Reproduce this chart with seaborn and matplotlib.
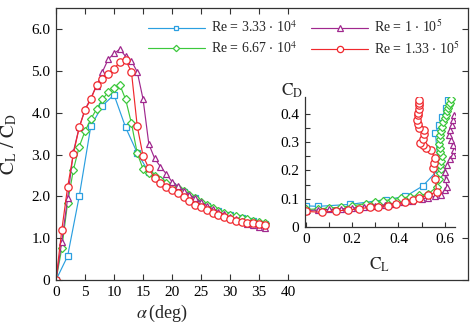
import numpy as np
import pandas as pd
import matplotlib
matplotlib.use("Agg")
import matplotlib.pyplot as plt
import seaborn as sns

# ---------------- data ----------------
alpha = list(range(0, 37))          # angle of attack (deg), 1-deg steps
alpha_2 = list(range(0, 37, 2))     # 2-deg steps

# lift-to-drag ratio C_L / C_D
ratio_333 = [0, 0.57, 2.00, 3.68, 4.17, 4.43, 3.65, 3.04, 2.58, 2.38, 2.25,
             2.10, 1.95, 1.78, 1.65, 1.56, 1.48, 1.41, 1.35]
ratio_667 = [0, 0.76, 1.85, 2.64, 3.19, 3.56, 3.85, 4.09, 4.32, 4.50, 4.60,
             4.67, 4.32, 3.75, 3.03, 2.66, 2.56, 2.50, 2.40, 2.33, 2.27, 2.20,
             2.12, 2.04, 1.96, 1.87, 1.79, 1.72, 1.65, 1.60, 1.56, 1.52, 1.48,
             1.45, 1.42, 1.39, 1.36]
ratio_100 = [0, 0.92, 1.95, 3.07, 3.65, 4.08, 4.35, 4.65, 4.98, 5.28, 5.42,
             5.52, 5.35, 5.24, 4.98, 4.33, 3.25, 2.91, 2.71, 2.54, 2.35, 2.24,
             2.14, 2.04, 1.95, 1.86, 1.78, 1.70, 1.63, 1.57, 1.51, 1.45, 1.40,
             1.35, 1.31, 1.27, 1.24]
ratio_133 = [0, 1.20, 2.22, 3.02, 3.65, 4.07, 4.32, 4.67, 4.80, 4.94, 5.05,
             5.22, 5.26, 4.98, 3.68, 2.97, 2.67, 2.43, 2.31, 2.23, 2.15, 2.07,
             1.99, 1.88, 1.80, 1.74, 1.67, 1.61, 1.55, 1.50, 1.46, 1.42, 1.39,
             1.37, 1.36, 1.34, 1.32]

# drag polars (C_L, C_D)
cl_333 = [0.00, 0.05, 0.19, 0.345, 0.43, 0.505, 0.575, 0.56, 0.575, 0.59, 0.605, 0.616]
cd_333 = [0.075, 0.073, 0.080, 0.097, 0.108, 0.145, 0.205, 0.332, 0.36, 0.39, 0.42, 0.448]

cl_667 = [0.00, 0.05, 0.10, 0.15, 0.20, 0.26, 0.30, 0.335, 0.37, 0.41, 0.45, 0.49,
          0.53, 0.565, 0.575, 0.58, 0.585, 0.58, 0.583, 0.587, 0.58, 0.578, 0.577,
          0.58, 0.58, 0.585, 0.59, 0.594, 0.60, 0.604, 0.61, 0.613, 0.618, 0.623, 0.626]
cd_667 = [0.062, 0.064, 0.067, 0.070, 0.075, 0.083, 0.088, 0.093, 0.097, 0.102,
          0.107, 0.112, 0.118, 0.141, 0.17, 0.19, 0.205, 0.22, 0.235, 0.25, 0.265,
          0.28, 0.295, 0.31, 0.325, 0.34, 0.355, 0.37, 0.385, 0.395, 0.41, 0.42,
          0.43, 0.44, 0.452]

cl_100 = [0.00, 0.05, 0.10, 0.15, 0.20, 0.25, 0.30, 0.34, 0.38, 0.42, 0.46, 0.50,
          0.53, 0.56, 0.585, 0.60, 0.61, 0.604, 0.60, 0.61, 0.625, 0.635, 0.64,
          0.635, 0.627, 0.62, 0.623, 0.63, 0.635, 0.64]
cd_100 = [0.058, 0.060, 0.062, 0.064, 0.067, 0.070, 0.074, 0.078, 0.083, 0.088,
          0.093, 0.099, 0.104, 0.109, 0.115, 0.13, 0.141, 0.171, 0.195, 0.22, 0.242,
          0.256, 0.273, 0.29, 0.308, 0.326, 0.344, 0.362, 0.38, 0.398]

cl_133 = [0.00, 0.07, 0.13, 0.18, 0.23, 0.275, 0.31, 0.355, 0.39, 0.43, 0.465,
          0.49, 0.53, 0.565, 0.56, 0.548, 0.553, 0.558, 0.54, 0.52, 0.505, 0.495,
          0.505, 0.51, 0.51, 0.49, 0.485, 0.48, 0.485, 0.485, 0.488, 0.49, 0.49, 0.49]
cd_133 = [0.055, 0.052, 0.057, 0.060, 0.064, 0.070, 0.071, 0.076, 0.082, 0.088,
          0.097, 0.104, 0.112, 0.125, 0.17, 0.21, 0.225, 0.245, 0.272, 0.28, 0.29,
          0.298, 0.312, 0.33, 0.342, 0.35, 0.365, 0.38, 0.395, 0.405, 0.418, 0.43,
          0.44, 0.45]

labels = ["Re = 3.33 $\\cdot$ 10$^4$", "Re = 6.67 $\\cdot$ 10$^4$",
          "Re = 1 $\\cdot$ 10$^5$", "Re = 1.33 $\\cdot$ 10$^5$"]
colors = ["#2B9FE0", "#3CC83C", "#A0288E", "#F0282D"]
markers = ["s", "D", "^", "o"]
msizes = [4.0, 3.8, 5.0, 5.3]

# ---------------- style ----------------
sns.set_style("ticks")
plt.rcParams["font.family"] = ["Liberation Serif", "DejaVu Serif"]
plt.rcParams["mathtext.fontset"] = "stix"
plt.rcParams["axes.edgecolor"] = "#333333"
plt.rcParams["xtick.color"] = "#333333"
plt.rcParams["ytick.color"] = "#333333"
plt.rcParams["xtick.labelcolor"] = "black"
plt.rcParams["ytick.labelcolor"] = "black"

fig = plt.figure(figsize=(4.74, 3.30), dpi=100)
ax = fig.add_axes([56 / 474, 1 - 280 / 330, 412 / 474, 271.7 / 330])

main_x = [alpha_2, alpha, alpha, alpha]
main_y = [ratio_333, ratio_667, ratio_100, ratio_133]

for x, y, c, m, ms, lab in zip(main_x, main_y, colors, markers, msizes, labels):
    sns.lineplot(x=x, y=y, ax=ax, color=c, marker=m, markersize=ms,
                 markerfacecolor="white", markeredgecolor=c, markeredgewidth=0.9,
                 linewidth=0.85, label=lab, estimator=None, sort=False)

ax.set_xlim(0, 71)
ax.set_ylim(0, 6.5)
ax.set_xticks(range(0, 41, 5))
ax.set_xticklabels([str(v) for v in range(0, 41, 5)])
ax.set_yticks([0, 1, 2, 3, 4, 5, 6])
ax.set_yticklabels(["0", "1.0", "2.0", "3.0", "4.0", "5.0", "6.0"])
ax.tick_params(direction="in", top=True, right=True, length=4, width=0.8,
               labelsize=11, pad=4)
for s in ax.spines.values():
    s.set_linewidth(0.9)

ax.set_xlabel(r"$\alpha\,$(deg)", fontsize=13)
ax.xaxis.set_label_coords(0.257, -0.085)
ax.set_ylabel(r"$\mathrm{C_L}\ /\ \mathrm{C_D}$", fontsize=14)
ax.yaxis.set_label_coords(-0.09, 0.5)

ax.legend(ncol=2, frameon=False, fontsize=10, loc="upper left",
          bbox_to_anchor=(148 / 474, 1 - 19 / 330), bbox_transform=fig.transFigure,
          borderpad=0, borderaxespad=0, handlelength=4.1, handletextpad=0.45,
          columnspacing=1.0, labelspacing=0.35, markerscale=0.85)

# ---------------- inset: drag polar ----------------
axi = fig.add_axes([305 / 474, 1 - 227 / 330, 150 / 474, 130 / 330])
axi.patch.set_alpha(0)
pol_x = [cl_333, cl_667, cl_100, cl_133]
pol_y = [cd_333, cd_667, cd_100, cd_133]
for x, y, c, m, ms in zip(pol_x, pol_y, colors, markers, msizes):
    sns.lineplot(x=x, y=y, ax=axi, color=c, marker=m, markersize=ms,
                 markerfacecolor="white", markeredgecolor=c, markeredgewidth=0.9,
                 linewidth=0.85, estimator=None, sort=False)

axi.set_xlim(-0.005, 0.645)
axi.set_ylim(0, 0.46)
axi.set_xticks(np.arange(0, 0.61, 0.1))
axi.set_xticklabels(["0", "", "0.2", "", "0.4", "", "0.6"])
axi.set_yticks(np.arange(0, 0.41, 0.05))
axi.set_yticklabels(["0", "", "0.1", "", "0.2", "", "0.3", "", "0.4"])
axi.tick_params(direction="in", length=3.5, width=0.8, labelsize=11, pad=4)
axi.spines["top"].set_visible(False)
axi.spines["right"].set_visible(False)
for s in ["left", "bottom"]:
    axi.spines[s].set_linewidth(0.9)
axi.set_xlabel("")
axi.set_ylabel("")
fig.text(292 / 474, 1 - 91 / 330, r"$\mathrm{C_D}$", fontsize=12.5,
         ha="center", va="center")
fig.text(380 / 474, 1 - 265 / 330, r"$\mathrm{C_L}$", fontsize=12.5,
         ha="center", va="center")

fig.savefig("out.png", dpi=100)
